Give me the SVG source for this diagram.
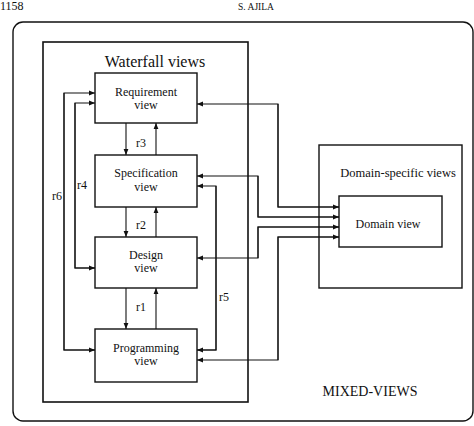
<svg xmlns="http://www.w3.org/2000/svg" width="474" height="426" viewBox="0 0 474 426">
<style>
.t{font-family:"Liberation Serif","Times New Roman",serif;fill:#111}
.box{fill:#fff;stroke:#111;stroke-width:1.4}
.ln{fill:none;stroke:#111;stroke-width:1.1}
</style>
<defs>
<marker id="ah" viewBox="0 0 10 10" refX="10" refY="5" markerWidth="6" markerHeight="6" orient="auto" markerUnits="userSpaceOnUse">
<path d="M0,1 L10,5 L0,9 z" fill="#111"/>
</marker>
</defs>
<rect width="474" height="426" fill="#fff"/>
<text class="t" x="0" y="10" font-size="12">1158</text>
<text class="t" x="256" y="10" font-size="9.5" text-anchor="middle">S. AJILA</text>
<g id="mixed">
<rect x="13" y="22" width="460" height="399" rx="10" ry="10" fill="none" stroke="#111" stroke-width="1.4"/>
<text class="t" x="370" y="396" font-size="14" text-anchor="middle">MIXED-VIEWS</text>
</g>
<g id="waterfall">
<rect x="43" y="42" width="205" height="360" fill="none" stroke="#111" stroke-width="1.6"/>
<text class="t" x="155" y="67" font-size="16" text-anchor="middle">Waterfall views</text>
</g>
<g id="req">
<rect class="box" x="95" y="73" width="102" height="50"/>
<text class="t" x="146" y="96" font-size="12" text-anchor="middle">Requirement</text>
<text class="t" x="146" y="109" font-size="12" text-anchor="middle">view</text>
</g>
<g id="spec">
<rect class="box" x="95" y="155" width="102" height="52"/>
<text class="t" x="146" y="177" font-size="12" text-anchor="middle">Specification</text>
<text class="t" x="146" y="191" font-size="12" text-anchor="middle">view</text>
</g>
<g id="design">
<rect class="box" x="95" y="237" width="102" height="51"/>
<text class="t" x="146" y="259" font-size="12" text-anchor="middle">Design</text>
<text class="t" x="146" y="272" font-size="12" text-anchor="middle">view</text>
</g>
<g id="prog">
<rect class="box" x="95" y="329" width="102" height="53"/>
<text class="t" x="146" y="352" font-size="12" text-anchor="middle">Programming</text>
<text class="t" x="146" y="365" font-size="12" text-anchor="middle">view</text>
</g>
<g id="domainspecific">
<rect x="319" y="145" width="143" height="143" fill="none" stroke="#111" stroke-width="1.4"/>
<text class="t" x="398" y="177" font-size="12.5" text-anchor="middle">Domain-specific views</text>
</g>
<g id="domain">
<rect class="box" x="339" y="196" width="103" height="51"/>
<text class="t" x="388" y="228" font-size="12" text-anchor="middle">Domain view</text>
</g>
<g id="connectors">
<path class="ln" d="M126,123 V155" marker-end="url(#ah)"/>
<path class="ln" d="M156,155 V123" marker-end="url(#ah)"/>
<path class="ln" d="M126,207 V237" marker-end="url(#ah)"/>
<path class="ln" d="M156,237 V207" marker-end="url(#ah)"/>
<path class="ln" d="M126,288 V329" marker-end="url(#ah)"/>
<path class="ln" d="M156,329 V288" marker-end="url(#ah)"/>
<path class="ln" d="M95,350 H64 V93 H95" marker-end="url(#ah)"/>
<path class="ln" d="M64,93 V350 H95" marker-end="url(#ah)"/>
<path class="ln" d="M95,268 H75 V103 H95" marker-end="url(#ah)"/>
<path class="ln" d="M75,103 V268 H95" marker-end="url(#ah)"/>
<path class="ln" d="M197,350 H216 V186 H197" marker-end="url(#ah)"/>
<path class="ln" d="M216,186 V350 H197" marker-end="url(#ah)"/>
<path class="ln" d="M339,207 H278 V104 H197" marker-end="url(#ah)"/>
<path class="ln" d="M278,104 V207 H339" marker-end="url(#ah)"/>
<path class="ln" d="M339,217 H258 V176 H197" marker-end="url(#ah)"/>
<path class="ln" d="M258,176 V217 H339" marker-end="url(#ah)"/>
<path class="ln" d="M339,227 H258 V258 H197" marker-end="url(#ah)"/>
<path class="ln" d="M258,258 V227 H339" marker-end="url(#ah)"/>
<path class="ln" d="M339,237 H278 V360 H197" marker-end="url(#ah)"/>
<path class="ln" d="M278,360 V237 H339" marker-end="url(#ah)"/>
<text class="t" x="141" y="147" font-size="12" text-anchor="middle">r3</text>
<text class="t" x="141" y="229" font-size="12" text-anchor="middle">r2</text>
<text class="t" x="141" y="311" font-size="12" text-anchor="middle">r1</text>
<text class="t" x="57" y="200" font-size="12" text-anchor="middle">r6</text>
<text class="t" x="82" y="189" font-size="12" text-anchor="middle">r4</text>
<text class="t" x="224" y="301" font-size="12" text-anchor="middle">r5</text>
</g>
</svg>
